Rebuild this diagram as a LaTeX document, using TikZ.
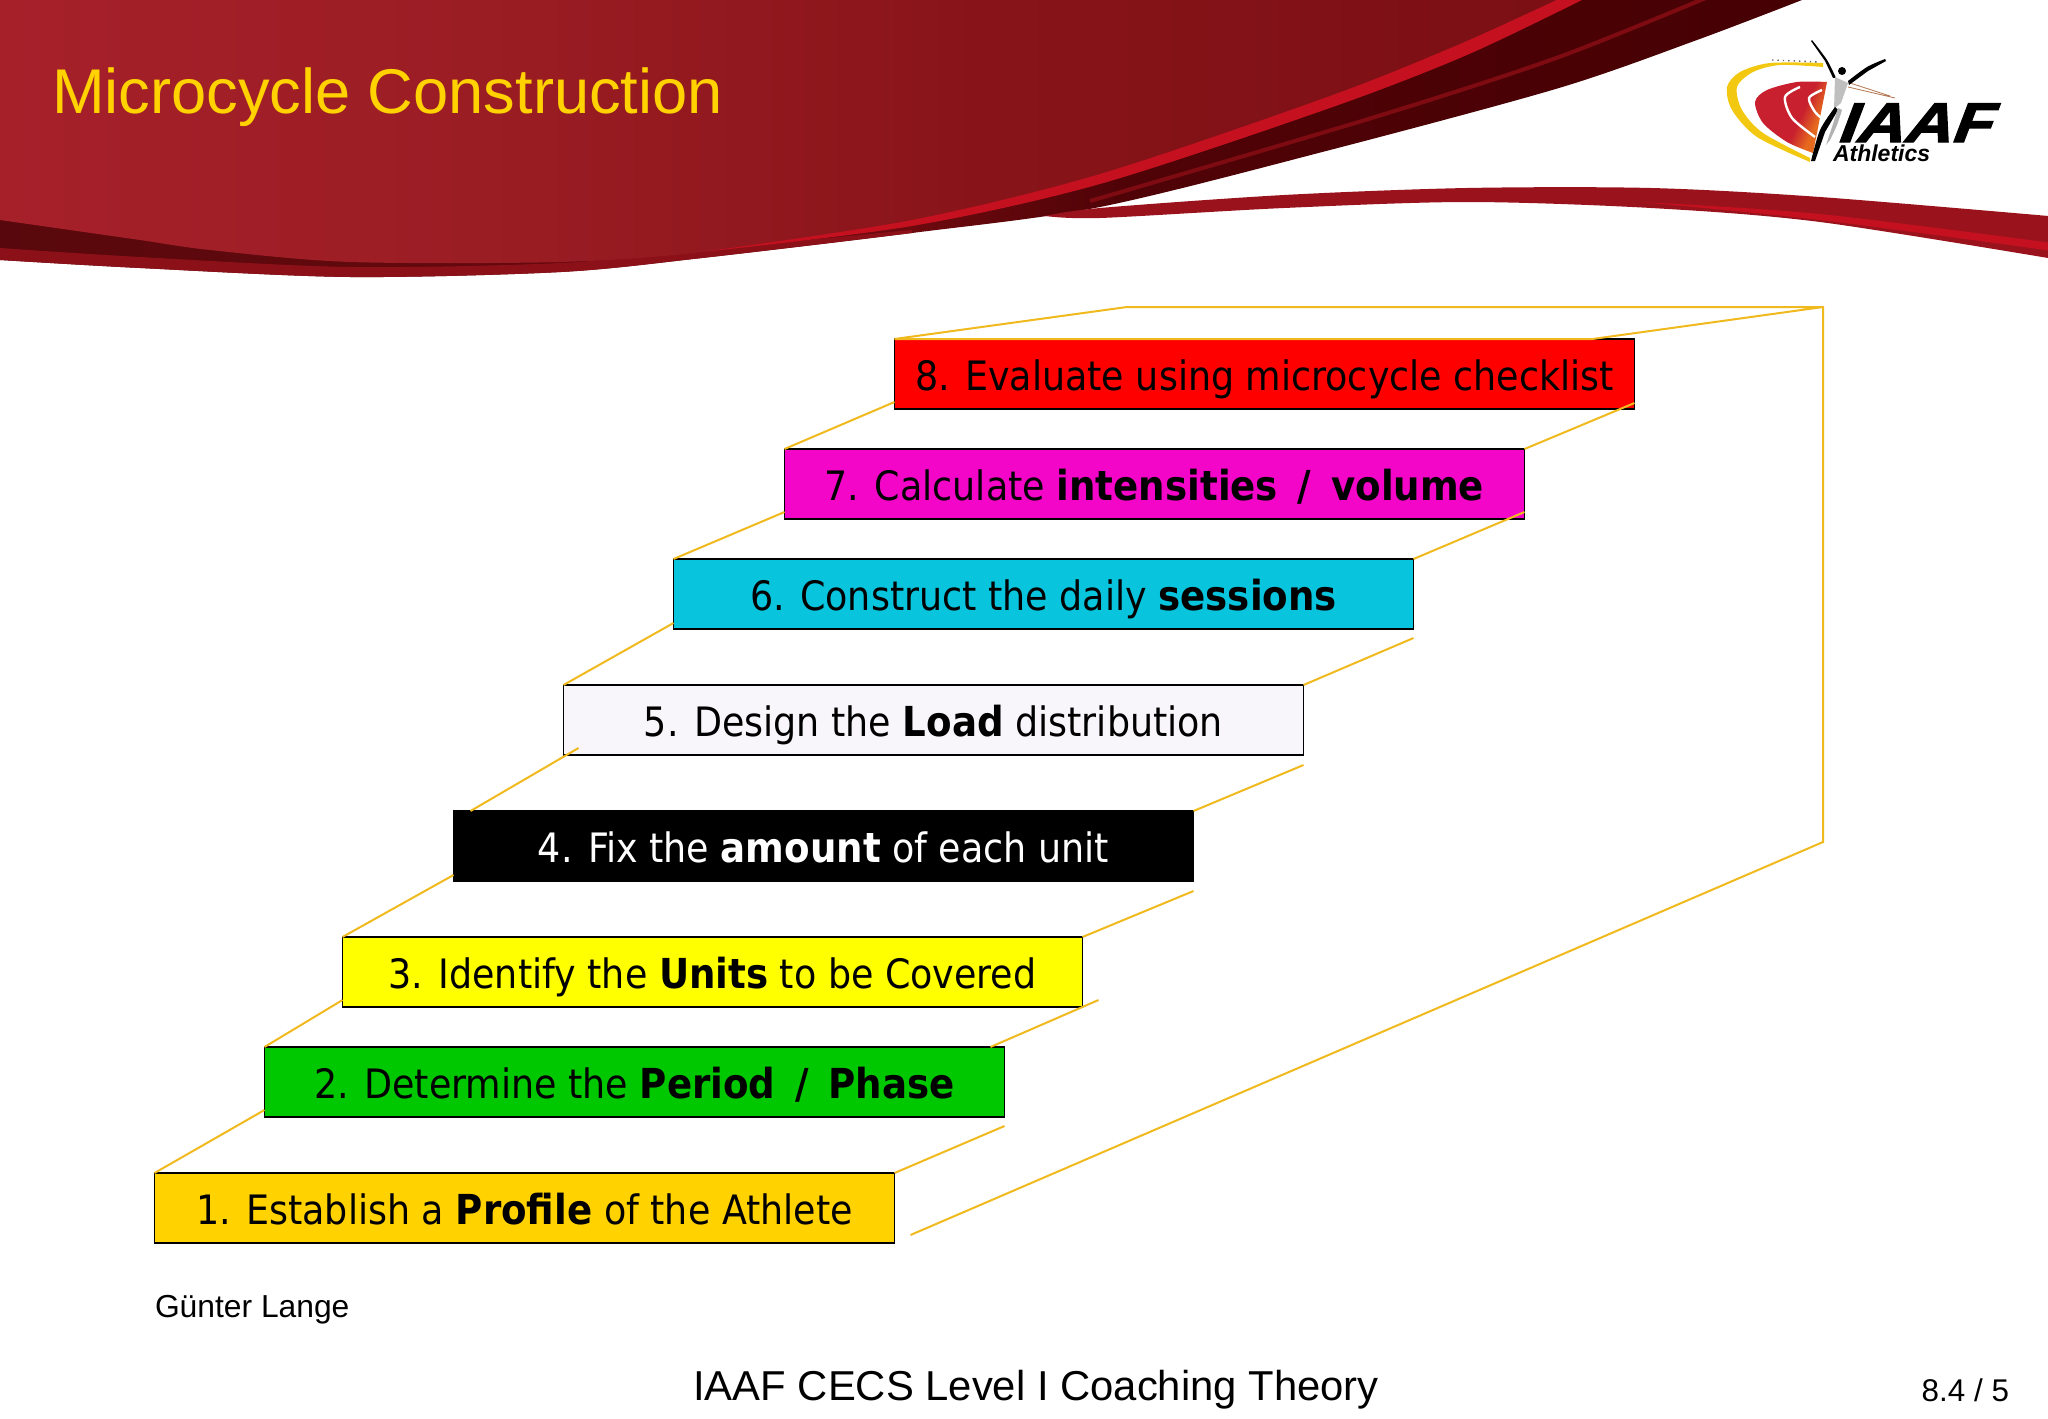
\documentclass[tikz,border=0pt]{standalone}
\usepackage{fontspec}
\setmainfont{Liberation Sans}
\newfontfamily\stepfont{DejaVu Sans Condensed}[BoldFont={DejaVu Sans Condensed Bold},BoldFeatures={Scale=1.02}]
\newfontfamily\logofont{Liberation Sans Bold Italic}[FakeBold=2.5,FakeStretch=1.18,FakeSlant=0.15]
\usetikzlibrary{positioning,calc}
\definecolor{titlegold}{RGB}{255,210,0}
\definecolor{stairline}{RGB}{240,185,30}
\definecolor{stepgold}{RGB}{255,210,0}
\definecolor{stepgreen}{RGB}{0,200,0}
\definecolor{stepyellow}{RGB}{255,255,0}
\definecolor{stepwhite}{RGB}{248,246,251}
\definecolor{stepcyan}{RGB}{8,196,220}
\definecolor{stepmagenta}{RGB}{244,6,200}
\definecolor{stepred}{RGB}{255,0,0}
\definecolor{bannerA}{RGB}{166,32,42}
\definecolor{bannerB}{RGB}{155,29,36}
\definecolor{bannerC}{RGB}{136,20,25}
\definecolor{bannerD}{RGB}{122,15,20}
\definecolor{bandA}{RGB}{88,8,12}
\definecolor{bandB}{RGB}{110,10,15}
\definecolor{bandC}{RGB}{80,3,7}
\definecolor{bandD}{RGB}{70,0,3}
\definecolor{rimred}{RGB}{140,16,24}
\definecolor{flashred}{RGB}{196,16,31}
\definecolor{ribbonred}{RGB}{154,19,28}
\definecolor{logoyellow}{RGB}{242,200,17}
\definecolor{logored}{RGB}{200,32,46}
\definecolor{logoorange}{RGB}{230,106,30}
\pgfdeclarehorizontalshading{bannerfade}{100bp}{
  color(0bp)=(bannerA); color(25bp)=(bannerA); color(40bp)=(bannerB);
  color(56bp)=(bannerC); color(75bp)=(bannerD); color(100bp)=(bannerD)}
\pgfdeclarehorizontalshading{bandfade}{100bp}{
  color(0bp)=(bandA); color(25bp)=(bandA); color(50bp)=(bandB);
  color(56bp)=(bandC); color(75bp)=(bandD); color(100bp)=(bandD)}
\pgfdeclarehorizontalshading{trackfade}{100bp}{
  color(0bp)=(logored); color(56bp)=(logored); color(68bp)=(logoorange); color(100bp)=(logoorange)}
\tikzset{
  stepbox/.style={rectangle,draw=black,line width=0.9pt,outer sep=0pt,inner sep=0pt,
    minimum width=370pt,minimum height=35pt,text height=19pt,text depth=3pt,
    font=\stepfont\fontsize{20.25}{24}\selectfont},
  riser/.style={draw=stairline,line width=1pt},
  plaintext/.style={inner sep=0pt,outer sep=0pt,text=black}
}
\begin{document}
\begin{tikzpicture}[x=0.5pt,y=-0.5pt]
  \useasboundingbox (0,0) rectangle (2048,1418);

  \begin{scope}
    \clip (0,0) rectangle (2048,1418);
    \path[shading=bandfade] (0,0) -- plot[smooth] coordinates {(1802,0) (1697,40) (1559,88) (1330,150) (1100,207) (912,233) (702,258) (561,272) (350,277) (140,268) (0,260)} -- cycle;
    \fill[rimred] plot[smooth] coordinates {(0,260) (140,268) (350,277) (561,272) (702,258) (912,233)} -- plot[smooth] coordinates {(912,230) (702,250) (561,263) (350,267) (140,257) (0,248)} -- cycle;
    \path[shading=bannerfade] (0,0) -- plot[smooth] coordinates {(1577,0) (1467,50) (1330,103) (1100,178) (912,222) (702,252) (561,262) (350,262) (210,250) (140,240) (70,230) (0,220)} -- cycle;
    \draw[bandB!80!flashred,line width=2pt] plot[smooth] coordinates {(1090,201) (1375,117) (1559,57) (1720,-8)};
    \fill[flashred] plot[smooth] coordinates {(1565,-4) (1460,44) (1330,96) (1100,174) (912,220) (702,252)} -- plot[smooth] coordinates {(702,252) (912,226) (1100,184) (1330,108) (1467,55) (1590,-4)} -- cycle;
    \fill[ribbonred] plot[smooth] coordinates {(1045,216) (1100,208) (1284,195) (1467,188) (1651,188) (1820,197) (2060,217)} -- plot[smooth] coordinates {(2060,260) (1820,222) (1651,208) (1467,202) (1284,208) (1100,218) (1045,216)} -- cycle;
    \fill[flashred] plot[smooth] coordinates {(1640,202) (1820,214) (2060,244)} -- plot[smooth] coordinates {(2060,252) (1820,220) (1640,202)} -- cycle;
  \end{scope}

  \fill[logoyellow] plot[smooth] coordinates {(1823,63) (1770,63) (1740,72) (1727,87) (1732,110) (1757,137) (1810,162)} -- plot[smooth] coordinates {(1810,158) (1763,133) (1742,110) (1737,87) (1753,72) (1780,65) (1823,67)} -- cycle;
  \path[shading=trackfade,shading angle=-25] plot[smooth] coordinates {(1827,82) (1797,82) (1767,90) (1755,102) (1763,123) (1787,142) (1813,153)} -- (1827,82) -- cycle;
  \draw[white,line width=1.2pt] plot[smooth] coordinates {(1800,87) (1785,97) (1792,118) (1815,137)};
  \draw[white,line width=1.2pt] plot[smooth] coordinates {(1822,90) (1809,98) (1815,112) (1824,120)};
  \draw[black!60,line width=0.7pt,dotted] (1772,60) -- (1820,62);
  \draw[logoorange!50!gray,line width=0.4pt] (1848,87) -- (1895,98) (1850,83) -- (1890,96);
  \fill[black] plot[smooth] coordinates {(1812,40) (1827,60) (1836,78)} -- (1833,78) -- plot[smooth] coordinates {(1825,61) (1811,41)} -- cycle;
  \fill[black] plot[smooth] coordinates {(1885,59) (1867,67) (1848,81)} -- (1849,85) -- plot[smooth] coordinates {(1868,71) (1886,61)} -- cycle;
  \fill[black] (1842,71) circle (4);
  \fill[gray!50] (1835,77) -- (1848,83) -- (1841,103) -- (1834,109) -- cycle;
  \fill[black] plot[smooth] coordinates {(1835,107) (1820,130) (1811,161)} -- (1815,161) -- plot[smooth] coordinates {(1825,132) (1838,110)} -- cycle;
  \fill[gray!60] plot[smooth] coordinates {(1838,108) (1832,127) (1826,145)} -- plot[smooth] coordinates {(1830,140) (1837,125) (1842,110)} -- cycle;

  \node[plaintext,text=titlegold,font=\fontsize{31.6}{36}\selectfont,anchor=base west] (title) at (52,113) {Microcycle Construction};
  \node[plaintext,font=\logofont\fontsize{28}{30}\selectfont,anchor=base west] (iaaf) at (1839,142) {IAAF};
  \node[plaintext,font=\bfseries\itshape\fontsize{11.5}{13}\selectfont,anchor=base west] (athletics) at (1833,162) {Athletics};

  \node[stepbox,fill=stepgold] (step1) at (524.5,1208) {1. Establish a \textbf{Profile} of the Athlete};
  \node[stepbox,fill=stepgreen,above=28pt of step1,xshift=55pt] (step2) {2. Determine the \textbf{Period \,/\, Phase}};
  \node[stepbox,fill=stepyellow,above=20pt of step2,xshift=39pt] (step3) {3. Identify the \textbf{Units} to be Covered};
  \node[stepbox,fill=black,text=white,above=28pt of step3,xshift=55.5pt] (step4) {4. Fix the \textbf{amount} of each unit};
  \node[stepbox,fill=stepwhite,above=28pt of step4,xshift=55pt] (step5) {5. Design the \textbf{Load} distribution};
  \node[stepbox,fill=stepcyan,above=28pt of step5,xshift=55pt] (step6) {6. Construct the daily \textbf{sessions}};
  \node[stepbox,fill=stepmagenta,above=20pt of step6,xshift=55.5pt] (step7) {7. Calculate \textbf{intensities \,/\, volume}};
  \node[stepbox,fill=stepred,above=20pt of step7,xshift=55pt] (step8) {8. Evaluate using microcycle checklist};

  \coordinate (backtop) at (1823,307);
  \coordinate (backleft) at (1127,307);
  \coordinate (backfoot) at (1823,842);

  \draw[riser] ($(step8.south west)+(0,-7)$) -- (step7.north west);
  \draw[riser] ($(step7.south west)+(0,-7)$) -- (step6.north west);
  \draw[riser] ($(step6.south west)+(0,-6)$) -- (step5.north west);
  \draw[riser] ($(step5.south west)+(15,-7)$) -- ($(step4.north west)+(17,0)$);
  \draw[riser] ($(step4.south west)+(0,-6)$) -- (step3.north west);
  \draw[riser] ($(step3.south west)+(0,-7)$) -- (step2.north west);
  \draw[riser] ($(step2.south west)+(0,-7)$) -- (step1.north west);

  \draw[riser] ($(step8.south east)+(0,-6)$) -- (step7.north east);
  \draw[riser] ($(step7.south east)+(0,-7)$) -- (step6.north east);
  \draw[riser] ($(step6.south east)+(0,9)$) -- (step5.north east);
  \draw[riser] ($(step5.south east)+(0,10)$) -- (step4.north east);
  \draw[riser] ($(step4.south east)+(0,10)$) -- (step3.north east);
  \draw[riser] ($(step3.south east)+(16,-7)$) -- ($(step2.north east)+(-14,0)$);
  \draw[riser] ($(step2.south east)+(0,9)$) -- (step1.north east);

  \draw[riser] ($(step1.south east)+(16,-8)$) -- (backfoot) -- (backtop) -- (backleft) -- (step8.north west) -- ($(step8.north east)+(-42,0)$) -- (backtop);

  \node[plaintext,font=\fontsize{15.9}{18}\selectfont,anchor=base west] (author) at (155,1317) {Günter Lange};
  \node[plaintext,font=\fontsize{20.9}{25}\selectfont,anchor=base] (course) at (1036,1400) {IAAF CECS Level I Coaching Theory};
  \node[plaintext,font=\fontsize{15.7}{18}\selectfont,anchor=base east] (page) at (2009,1401) {8.4 / 5};
\end{tikzpicture}
\end{document}
